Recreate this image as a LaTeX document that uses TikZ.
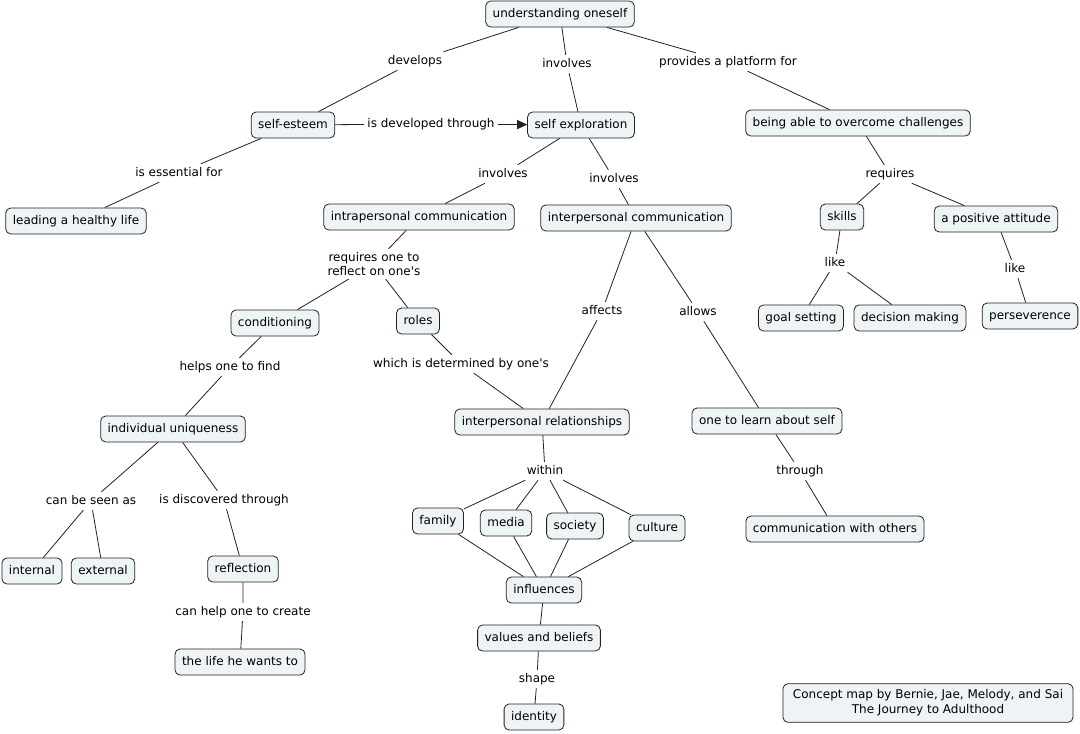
\documentclass[tikz,border=0pt]{standalone}
\usepackage{fontspec}
\setmainfont{DejaVu Sans}
\usetikzlibrary{arrows.meta}
\definecolor{cfill}{HTML}{EEF3F6}
\definecolor{cline}{HTML}{222222}
\begin{document}
\begin{tikzpicture}[x=1pt,y=-1pt,
  concept/.style={draw=cline, line width=0.8pt, fill=cfill, rounded corners=5pt,
    font=\fontsize{12}{14}\selectfont, inner xsep=7pt, inner ysep=7pt,
    text height=9pt, text depth=3pt},
  lab/.style={font=\fontsize{12}{14}\selectfont, inner sep=3pt, text height=9pt, text depth=3pt},
  mlab/.style={font=\fontsize{12}{14.5}\selectfont, inner sep=3pt, align=center},
  conn/.style={draw=cline, line width=0.8pt}]
\useasboundingbox[fill=white] (0,0) rectangle (1080,734);
% concepts
\node[concept] (uo) at (560,14) {understanding oneself};
\node[concept] (se) at (293,125) {self-esteem};
\node[concept] (sx) at (581,125) {self exploration};
\node[concept] (ba) at (858,123) {being able to overcome challenges};
\node[concept] (lh) at (76,221) {leading a healthy life};
\node[concept] (ia) at (419,217) {intrapersonal communication};
\node[concept] (ie) at (636,218) {interpersonal communication};
\node[concept] (sk) at (842,217) {skills};
\node[concept] (pa) at (996,219) {a positive attitude};
\node[concept] (co) at (275,323) {conditioning};
\node[concept] (ro) at (418,321) {roles};
\node[concept] (gs) at (801,318) {goal setting};
\node[concept] (dm) at (910,318) {decision making};
\node[concept] (pe) at (1030,316) {perseverence};
\node[concept] (iu) at (173,429) {individual uniqueness};
\node[concept] (ir) at (542,422) {interpersonal relationships};
\node[concept] (ol) at (767,421) {one to learn about self};
\node[concept] (fa) at (438,521) {family};
\node[concept] (me) at (506,523) {media};
\node[concept] (so) at (575,526) {society};
\node[concept] (cu) at (657,528) {culture};
\node[concept] (cw) at (835,529) {communication with others};
\node[concept] (in) at (32,571) {internal};
\node[concept] (ex) at (103,571) {external};
\node[concept] (rf) at (243,569) {reflection};
\node[concept] (if) at (544,590) {influences};
\node[concept] (lf) at (240,662) {the life he wants to};
\node[concept] (vb) at (539,638) {values and beliefs};
\node[concept] (id) at (534,717) {identity};
\node[concept, align=center, text height=, text depth=, font=\fontsize{12}{15}\selectfont, inner ysep=6pt, minimum width=290pt] (cm) at (928,703)
  {Concept map by Bernie, Jae, Melody, and Sai\\The Journey to Adulthood};
% linking phrases
\node[lab] (l1) at (415,61) {develops};
\node[lab] (l2) at (567,64) {involves};
\node[lab] (l3) at (728,62) {provides a platform for};
\node[lab] (l4) at (431,124) {is developed through};
\node[lab] (l5) at (179,173) {is essential for};
\node[lab] (l6) at (503,174) {involves};
\node[lab] (l7) at (614,179) {involves};
\node[lab] (l8) at (890,174) {requires};
\node[mlab] (l9) at (374,264) {requires one to\\reflect on one\textquotesingle s};
\node[lab] (l10) at (835,263) {like};
\node[lab] (l11) at (1015,269) {like};
\node[lab] (l12) at (230,367) {helps one to find};
\node[lab] (l13) at (461,364) {which is determined by one\textquotesingle s};
\node[lab] (l14) at (602,311) {affects};
\node[lab] (l15) at (698,312) {allows};
\node[lab] (l16) at (91,501) {can be seen as};
\node[lab] (l17) at (224,500) {is discovered through};
\node[lab] (l18) at (545,471) {within};
\node[lab] (l19) at (800,471) {through};
\node[lab] (l20) at (243,612) {can help one to create};
\node[lab] (l21) at (537,679) {shape};
% connections
\draw[conn] (uo) -- (l1) -- (se);
\draw[conn] (uo) -- (l2) -- (sx);
\draw[conn] (uo) -- (l3) -- (ba);
\draw[conn] (se) -- (l4);
\draw[conn,-{Triangle[length=10pt,width=9pt]}] (l4) -- (sx);
\draw[conn] (se) -- (l5) -- (lh);
\draw[conn] (sx) -- (l6) -- (ia);
\draw[conn] (sx) -- (l7) -- (ie);
\draw[conn] (ba) -- (l8) -- (sk);
\draw[conn] (l8) -- (pa);
\draw[conn] (ia) -- (l9) -- (co);
\draw[conn] (l9) -- (ro);
\draw[conn] (sk) -- (l10) -- (gs);
\draw[conn] (l10) -- (dm);
\draw[conn] (pa) -- (l11) -- (pe);
\draw[conn] (co) -- (l12) -- (iu);
\draw[conn] (ro) -- (l13) -- (ir);
\draw[conn] (ie) -- (l14) -- (ir);
\draw[conn] (ie) -- (l15) -- (ol);
\draw[conn] (iu) -- (l16) -- (in);
\draw[conn] (l16) -- (ex);
\draw[conn] (iu) -- (l17) -- (rf);
\draw[conn] (ir) -- (l18) -- (fa);
\draw[conn] (l18) -- (me);
\draw[conn] (l18) -- (so);
\draw[conn] (l18) -- (cu);
\draw[conn] (fa) -- (if);
\draw[conn] (me) -- (if);
\draw[conn] (so) -- (if);
\draw[conn] (cu) -- (if);
\draw[conn] (if) -- (vb);
\draw[conn] (vb) -- (l21) -- (id);
\draw[conn] (ol) -- (l19) -- (cw);
\draw[conn] (rf) -- (l20) -- (lf);
\end{tikzpicture}
\end{document}
